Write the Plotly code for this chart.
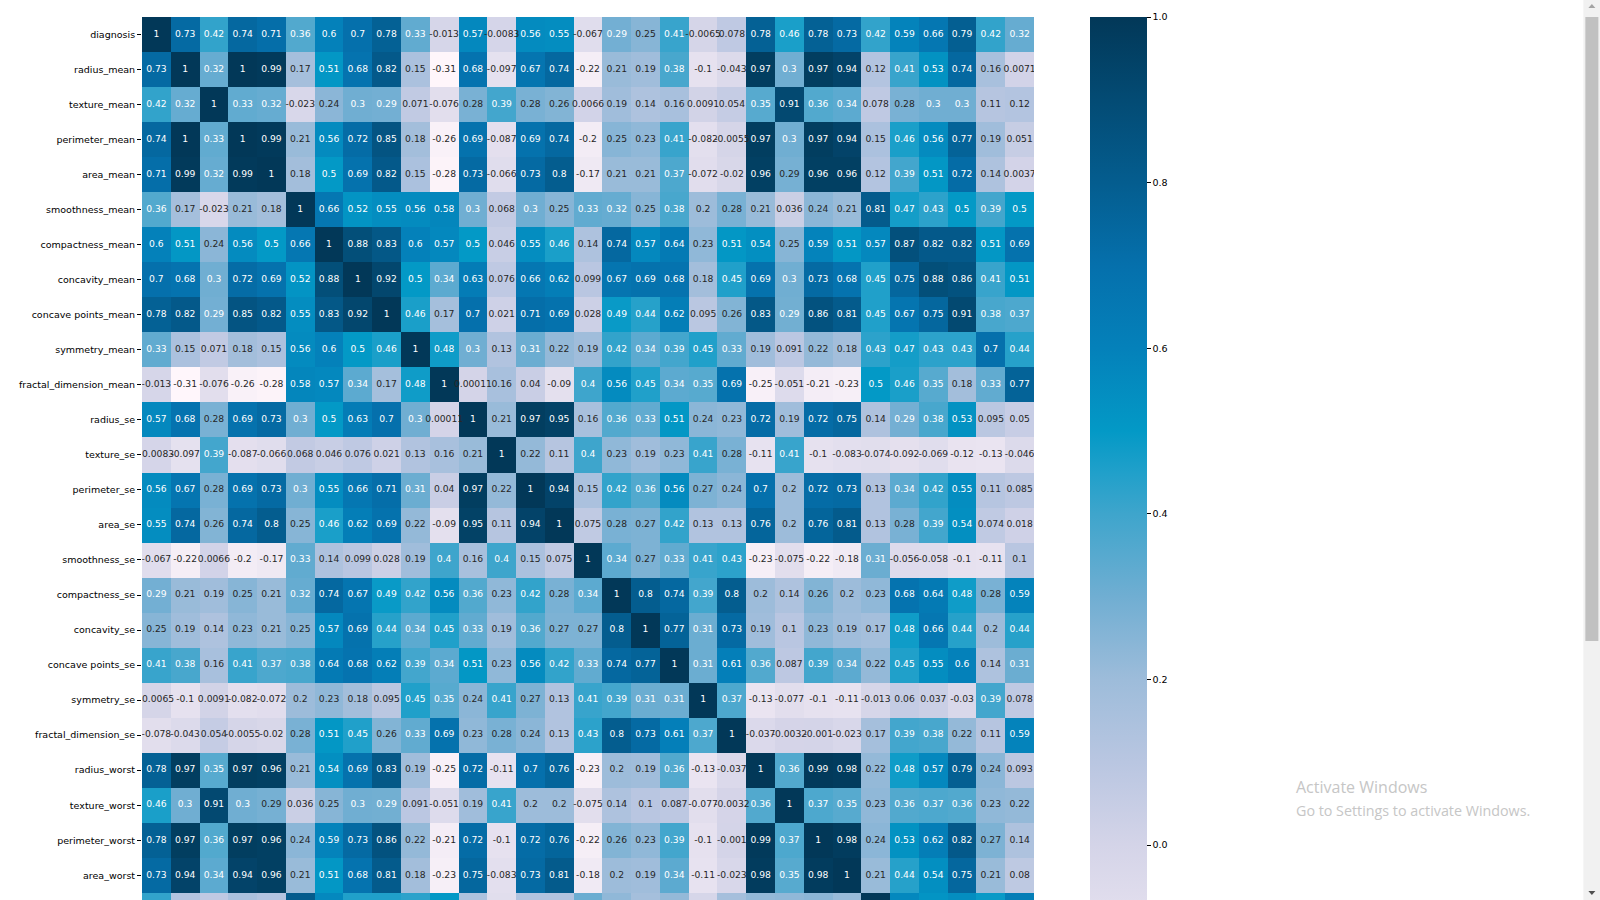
import plotly.graph_objects as go

# ---------------- data ----------------
features = ["diagnosis", "radius_mean", "texture_mean", "perimeter_mean", "area_mean",
            "smoothness_mean", "compactness_mean", "concavity_mean", "concave points_mean",
            "symmetry_mean", "fractal_dimension_mean", "radius_se", "texture_se", "perimeter_se",
            "area_se", "smoothness_se", "compactness_se", "concavity_se", "concave points_se",
            "symmetry_se", "fractal_dimension_se", "radius_worst", "texture_worst",
            "perimeter_worst", "area_worst", "smoothness_worst", "compactness_worst",
            "concavity_worst", "concave points_worst", "symmetry_worst", "fractal_dimension_worst"]

row_diagnosis = [1, 0.73, 0.42, 0.74, 0.71, 0.36, 0.6, 0.7, 0.78, 0.33, -0.013, 0.57, -0.0083, 0.56, 0.55, -0.067, 0.293, 0.25, 0.41, -0.0065, 0.078, 0.78, 0.46, 0.78, 0.73, 0.42, 0.59, 0.66, 0.79, 0.42, 0.32]
row_radius_mean = [0.73, 1, 0.32, 1, 0.99, 0.17, 0.51, 0.68, 0.82, 0.15, -0.31, 0.68, -0.097, 0.67, 0.74, -0.22, 0.21, 0.19, 0.38, -0.1, -0.043, 0.97, 0.3, 0.97, 0.94, 0.12, 0.41, 0.53, 0.74, 0.16, 0.0071]
row_texture_mean = [0.42, 0.32, 1, 0.33, 0.32, -0.023, 0.24, 0.3, 0.293, 0.071, -0.076, 0.28, 0.39, 0.28, 0.26, 0.0066, 0.19, 0.14, 0.16, 0.0091, 0.054, 0.35, 0.91, 0.36, 0.34, 0.078, 0.28, 0.3, 0.3, 0.11, 0.12]
row_perimeter_mean = [0.74, 1, 0.33, 1, 0.99, 0.21, 0.56, 0.72, 0.85, 0.18, -0.26, 0.69, -0.087, 0.69, 0.74, -0.2, 0.25, 0.23, 0.41, -0.082, -0.0055, 0.97, 0.3, 0.97, 0.94, 0.15, 0.46, 0.56, 0.77, 0.19, 0.051]
row_area_mean = [0.71, 0.99, 0.32, 0.99, 1, 0.18, 0.5, 0.69, 0.82, 0.15, -0.28, 0.73, -0.066, 0.73, 0.8, -0.17, 0.21, 0.21, 0.37, -0.072, -0.02, 0.96, 0.2875, 0.96, 0.96, 0.12, 0.39, 0.51, 0.72, 0.14, 0.0037]
row_smoothness_mean = [0.36, 0.17, -0.023, 0.21, 0.18, 1, 0.66, 0.52, 0.55, 0.56, 0.58, 0.3, 0.068, 0.3, 0.25, 0.33, 0.32, 0.25, 0.38, 0.2, 0.28, 0.21, 0.036, 0.24, 0.21, 0.81, 0.47, 0.43, 0.5, 0.39, 0.5]
row_compactness_mean = [0.6, 0.51, 0.24, 0.56, 0.5, 0.66, 1, 0.88, 0.83, 0.6, 0.57, 0.5, 0.046, 0.55, 0.46, 0.14, 0.74, 0.57, 0.64, 0.23, 0.51, 0.54, 0.25, 0.59, 0.51, 0.57, 0.87, 0.82, 0.82, 0.51, 0.69]
row_concavity_mean = [0.7, 0.68, 0.3, 0.72, 0.69, 0.52, 0.88, 1, 0.92, 0.5, 0.34, 0.63, 0.076, 0.66, 0.62, 0.099, 0.67, 0.69, 0.68, 0.18, 0.45, 0.69, 0.3, 0.73, 0.68, 0.45, 0.75, 0.88, 0.86, 0.41, 0.51]
row_concave_points_mean = [0.78, 0.82, 0.293, 0.85, 0.82, 0.55, 0.83, 0.92, 1, 0.46, 0.17, 0.7, 0.021, 0.71, 0.69, 0.028, 0.49, 0.44, 0.62, 0.095, 0.26, 0.83, 0.295, 0.86, 0.81, 0.45, 0.67, 0.75, 0.91, 0.38, 0.37]
row_symmetry_mean = [0.33, 0.15, 0.071, 0.18, 0.15, 0.56, 0.6, 0.5, 0.46, 1, 0.48, 0.3, 0.13, 0.31, 0.22, 0.19, 0.42, 0.34, 0.39, 0.45, 0.33, 0.19, 0.091, 0.22, 0.18, 0.43, 0.47, 0.43, 0.43, 0.7, 0.44]
row_fractal_dimension_mean = [-0.013, -0.31, -0.076, -0.26, -0.28, 0.58, 0.57, 0.34, 0.17, 0.48, 1, 0.00011, 0.16, 0.04, -0.09, 0.4, 0.56, 0.45, 0.34, 0.35, 0.69, -0.25, -0.051, -0.21, -0.23, 0.5, 0.46, 0.35, 0.18, 0.33, 0.77]
row_radius_se = [0.57, 0.68, 0.28, 0.69, 0.73, 0.3, 0.5, 0.63, 0.7, 0.3, 0.00011, 1, 0.21, 0.97, 0.95, 0.16, 0.36, 0.33, 0.51, 0.24, 0.23, 0.72, 0.19, 0.72, 0.75, 0.14, 0.29, 0.38, 0.53, 0.095, 0.05]
row_texture_se = [-0.0083, -0.097, 0.39, -0.087, -0.066, 0.068, 0.046, 0.076, 0.021, 0.13, 0.16, 0.21, 1, 0.22, 0.11, 0.4, 0.23, 0.19, 0.23, 0.41, 0.28, -0.11, 0.41, -0.1, -0.083, -0.074, -0.092, -0.069, -0.12, -0.13, -0.046]
row_perimeter_se = [0.56, 0.67, 0.28, 0.69, 0.73, 0.3, 0.55, 0.66, 0.71, 0.31, 0.04, 0.97, 0.22, 1, 0.94, 0.15, 0.42, 0.36, 0.56, 0.27, 0.24, 0.7, 0.2, 0.72, 0.73, 0.13, 0.34, 0.42, 0.55, 0.11, 0.085]
row_area_se = [0.55, 0.74, 0.26, 0.74, 0.8, 0.25, 0.46, 0.62, 0.69, 0.22, -0.09, 0.95, 0.11, 0.94, 1, 0.075, 0.28, 0.27, 0.42, 0.13, 0.13, 0.76, 0.2, 0.76, 0.81, 0.13, 0.28, 0.39, 0.54, 0.074, 0.018]
row_smoothness_se = [-0.067, -0.22, 0.0066, -0.2, -0.17, 0.33, 0.14, 0.099, 0.028, 0.19, 0.4, 0.16, 0.4, 0.15, 0.075, 1, 0.34, 0.27, 0.33, 0.41, 0.43, -0.23, -0.075, -0.22, -0.18, 0.31, -0.056, -0.058, -0.1, -0.11, 0.1]
row_compactness_se = [0.293, 0.21, 0.19, 0.25, 0.21, 0.32, 0.74, 0.67, 0.49, 0.42, 0.56, 0.36, 0.23, 0.42, 0.28, 0.34, 1, 0.8, 0.74, 0.39, 0.8, 0.2, 0.14, 0.26, 0.2, 0.23, 0.68, 0.64, 0.48, 0.28, 0.59]
row_concavity_se = [0.25, 0.19, 0.14, 0.23, 0.21, 0.25, 0.57, 0.69, 0.44, 0.34, 0.45, 0.33, 0.19, 0.36, 0.27, 0.27, 0.8, 1, 0.77, 0.31, 0.73, 0.19, 0.1, 0.23, 0.19, 0.17, 0.48, 0.66, 0.44, 0.2, 0.44]
row_concave_points_se = [0.41, 0.38, 0.16, 0.41, 0.37, 0.38, 0.64, 0.68, 0.62, 0.39, 0.34, 0.51, 0.23, 0.56, 0.42, 0.33, 0.74, 0.77, 1, 0.31, 0.61, 0.36, 0.087, 0.39, 0.34, 0.22, 0.45, 0.55, 0.6, 0.14, 0.31]
row_symmetry_se = [-0.0065, -0.1, 0.0091, -0.082, -0.072, 0.2, 0.23, 0.18, 0.095, 0.45, 0.35, 0.24, 0.41, 0.27, 0.13, 0.41, 0.39, 0.31, 0.31, 1, 0.37, -0.13, -0.077, -0.1, -0.11, -0.013, 0.06, 0.037, -0.03, 0.39, 0.078]
row_fractal_dimension_se = [-0.078, -0.043, 0.054, -0.0055, -0.02, 0.28, 0.51, 0.45, 0.26, 0.33, 0.69, 0.23, 0.28, 0.24, 0.13, 0.43, 0.8, 0.73, 0.61, 0.37, 1, -0.037, -0.0032, -0.001, -0.023, 0.17, 0.39, 0.38, 0.22, 0.11, 0.59]
row_radius_worst = [0.78, 0.97, 0.35, 0.97, 0.96, 0.21, 0.54, 0.69, 0.83, 0.19, -0.25, 0.72, -0.11, 0.7, 0.76, -0.23, 0.2, 0.19, 0.36, -0.13, -0.037, 1, 0.36, 0.99, 0.98, 0.22, 0.48, 0.57, 0.79, 0.24, 0.093]
row_texture_worst = [0.46, 0.3, 0.91, 0.3, 0.2875, 0.036, 0.25, 0.3, 0.295, 0.091, -0.051, 0.19, 0.41, 0.2, 0.2, -0.075, 0.14, 0.1, 0.087, -0.077, -0.0032, 0.36, 1, 0.37, 0.35, 0.23, 0.36, 0.37, 0.36, 0.23, 0.22]
row_perimeter_worst = [0.78, 0.97, 0.36, 0.97, 0.96, 0.24, 0.59, 0.73, 0.86, 0.22, -0.21, 0.72, -0.1, 0.72, 0.76, -0.22, 0.26, 0.23, 0.39, -0.1, -0.001, 0.99, 0.37, 1, 0.98, 0.24, 0.53, 0.62, 0.82, 0.27, 0.14]
row_area_worst = [0.73, 0.94, 0.34, 0.94, 0.96, 0.21, 0.51, 0.68, 0.81, 0.18, -0.23, 0.75, -0.083, 0.73, 0.81, -0.18, 0.2, 0.19, 0.34, -0.11, -0.023, 0.98, 0.35, 0.98, 1, 0.21, 0.44, 0.54, 0.75, 0.21, 0.08]
row_smoothness_worst = [0.42, 0.12, 0.078, 0.15, 0.12, 0.81, 0.57, 0.45, 0.45, 0.43, 0.5, 0.14, -0.074, 0.13, 0.13, 0.31, 0.23, 0.17, 0.22, -0.013, 0.17, 0.22, 0.23, 0.24, 0.21, 1, 0.57, 0.52, 0.55, 0.49, 0.62]

rows = [row_diagnosis, row_radius_mean, row_texture_mean, row_perimeter_mean, row_area_mean,
        row_smoothness_mean, row_compactness_mean, row_concavity_mean, row_concave_points_mean,
        row_symmetry_mean, row_fractal_dimension_mean, row_radius_se, row_texture_se,
        row_perimeter_se, row_area_se, row_smoothness_se, row_compactness_se, row_concavity_se,
        row_concave_points_se, row_symmetry_se, row_fractal_dimension_se, row_radius_worst,
        row_texture_worst, row_perimeter_worst, row_area_worst, row_smoothness_worst]

cbar_ticks = [0.0, 0.2, 0.4, 0.6, 0.8, 1.0]
cbar_ticktext = ["0.0", "0.2", "0.4", "0.6", "0.8", "1.0"]

# ---------------- style / layout ----------------
ZMIN, ZMAX = -0.3116, 1.0
color_stops = [(-0.3116, "#fff6fb"), (-0.2, "#f3ecf5"), (-0.1, "#e6e1ef"), (0.0, "#d4d4e8"),
               (0.1, "#b9c6e1"), (0.2, "#9dbcda"), (0.3, "#70aed2"), (0.4, "#3ea5cc"),
               (0.45, "#20a0ca"), (0.5, "#0399c6"), (0.6, "#0481ba"), (0.7, "#0570ac"),
               (0.8, "#045d8f"), (0.9, "#034b74"), (1.0, "#023858")]
colorscale = [[(v - ZMIN) / (ZMAX - ZMIN), c] for v, c in color_stops]

W, H = 1600, 900
L, R_EDGE, TOP = 141.8, 1033.7, 17.0
ROW_H = 35.03
PW = R_EDGE - L
PH = H - TOP
n_cols = len(features)
n_rows = len(rows)
y_max_visible = -0.5 + PH / ROW_H


def px_x(px):
    return (px - L) / PW


def px_y(py):
    return (H - py) / PH


xs, ys, texts, tcolors = [], [], [], []
for i, r in enumerate(rows):
    for j, v in enumerate(r):
        xs.append(j)
        ys.append(i)
        texts.append(format(v, ".2g"))
        tcolors.append("#ffffff" if v >= 0.2885 else "#262626")

fig = go.Figure()
fig.add_trace(go.Heatmap(
    z=rows, x=list(range(n_cols)), y=list(range(n_rows)),
    zmin=ZMIN, zmax=ZMAX, colorscale=colorscale,
    hoverinfo="skip",
    colorbar=dict(
        x=px_x(1090), xanchor="left", xpad=0,
        y=1, yanchor="top", ypad=0,
        lenmode="pixels", len=31 * ROW_H,
        thickness=57, outlinewidth=0,
        tickvals=cbar_ticks, ticktext=cbar_ticktext,
        ticks="outside", ticklen=4, tickwidth=0.8, tickcolor="#000000",
        tickfont=dict(family="DejaVu Sans", size=9.5, color="#000000"),
    ),
))
fig.add_trace(go.Scatter(
    x=xs, y=ys, mode="text", text=texts,
    textfont=dict(family="DejaVu Sans", size=9.2, color=tcolors),
    hoverinfo="skip", showlegend=False, cliponaxis=True,
))

shapes = [
    dict(type="rect", xref="paper", yref="paper", x0=px_x(1583), x1=px_x(1600),
         y0=px_y(900), y1=px_y(0), fillcolor="#f1f1f1", line_width=0, layer="above"),
    dict(type="rect", xref="paper", yref="paper", x0=px_x(1585), x1=px_x(1598),
         y0=px_y(641), y1=px_y(17), fillcolor="#c1c1c1", line_width=0, layer="above"),
    dict(type="path", xref="paper", yref="paper",
         path="M {:.5f} {:.5f} L {:.5f} {:.5f} L {:.5f} {:.5f} Z".format(
             px_x(1588), px_y(8), px_x(1595), px_y(8), px_x(1591.5), px_y(4)),
         fillcolor="#a3a3a3", line_width=0, layer="above"),
    dict(type="path", xref="paper", yref="paper",
         path="M {:.5f} {:.5f} L {:.5f} {:.5f} L {:.5f} {:.5f} Z".format(
             px_x(1588), px_y(891), px_x(1595), px_y(891), px_x(1591.5), px_y(895)),
         fillcolor="#505050", line_width=0, layer="above"),
]

annotations = [
    dict(text="Activate Windows", xref="paper", yref="paper", x=px_x(1294), y=px_y(787),
         xanchor="left", yanchor="middle", showarrow=False,
         font=dict(family="Open Sans", size=16, color="#c6c6c6")),
    dict(text="Go to Settings to activate Windows.", xref="paper", yref="paper",
         x=px_x(1294), y=px_y(810), xanchor="left", yanchor="middle", showarrow=False,
         font=dict(family="Open Sans", size=14.3, color="#c6c6c6")),
]

fig.update_layout(
    width=W, height=H, autosize=False,
    margin=dict(l=L, r=W - R_EDGE, t=TOP, b=0, pad=0),
    paper_bgcolor="#ffffff", plot_bgcolor="#ffffff",
    showlegend=False,
    shapes=shapes, annotations=annotations,
    xaxis=dict(range=[-0.5, n_cols - 0.5], showticklabels=False, ticks="",
               showgrid=False, zeroline=False, showline=False, fixedrange=True),
    yaxis=dict(range=[y_max_visible, -0.5], tickmode="array",
               tickvals=list(range(len(features))), ticktext=features,
               ticks="outside", ticklen=4, tickwidth=0.8, tickcolor="#000000",
               tickfont=dict(family="DejaVu Sans", size=9.5, color="#000000"),
               showgrid=False, zeroline=False, showline=False, fixedrange=True),
)

fig.write_html("out.html", config={"displayModeBar": False},
               post_script="document.body.style.margin='0';document.body.style.overflow='hidden';")
